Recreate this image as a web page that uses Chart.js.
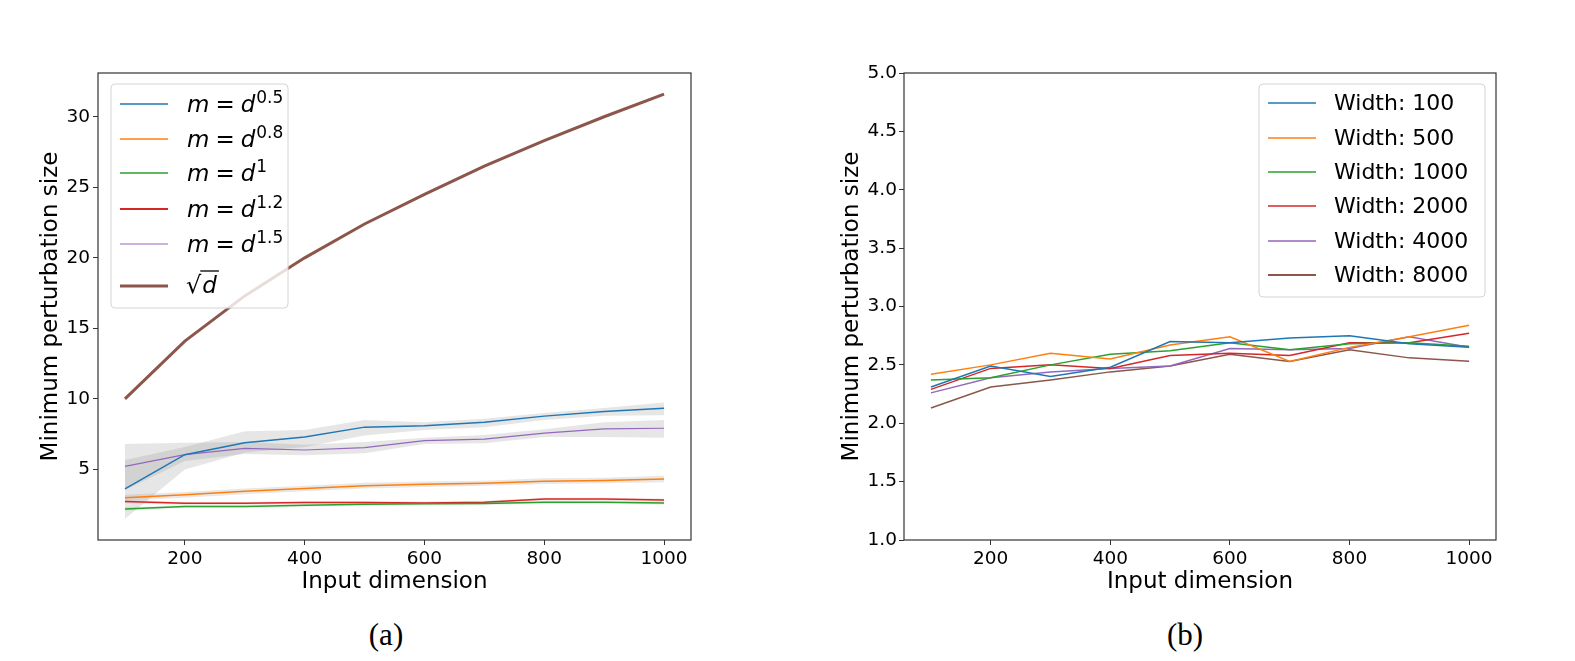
<!DOCTYPE html>
<html>
<head>
<meta charset="utf-8">
<script src="https://cdn.jsdelivr.net/npm/chart.js@4.4.1/dist/chart.umd.min.js"></script>
<style>
  body { margin: 0; background: #fff; width: 1575px; height: 661px; position: relative; overflow: hidden; }
  #wrapA { position: absolute; left: 0; top: 0; width: 780px; height: 600px; }
  #wrapB { position: absolute; left: 806px; top: 0; width: 769px; height: 600px; }
  .cap { position: absolute; top: 617px; font-family: "Liberation Serif", serif; font-size: 31px; transform: translateX(-50%); }
</style>
</head>
<body>
<div id="wrapA"><canvas id="chartA" width="780" height="600" style="width:780px;height:600px"></canvas></div>
<div id="wrapB"><canvas id="chartB" width="769" height="600" style="width:769px;height:600px"></canvas></div>
<div class="cap" style="left:386px">(a)</div>
<div class="cap" style="left:1185px">(b)</div>
<script>
// input dimensions (x) shared by both panels
const dims = [100, 200, 300, 400, 500, 600, 700, 800, 900, 1000];
const xTicks = [200, 400, 600, 800, 1000];

// panel (a): mean + band per hidden width m = d^p
const exps = ['0.5', '0.8', '1', '1.2', '1.5'];
const mPow05 = [3.62, 6.05, 6.9, 7.3, 8.0, 8.1, 8.35, 8.78, 9.1, 9.33];
const mPow05Lo = [1.5, 5.0, 6.2, 6.6, 7.4, 7.8, 8.0, 8.5, 8.8, 8.85];
const mPow05Hi = [5.67, 6.6, 7.7, 7.8, 8.5, 8.35, 8.6, 9.0, 9.35, 9.75];
const mPow08 = [3.0, 3.2, 3.45, 3.65, 3.85, 3.95, 4.02, 4.17, 4.22, 4.33];
const mPow08Lo = [2.8, 3.0, 3.25, 3.45, 3.65, 3.75, 3.85, 3.97, 4.02, 4.1];
const mPow08Hi = [3.2, 3.4, 3.65, 3.85, 4.05, 4.15, 4.2, 4.37, 4.42, 4.55];
const mPow10 = [2.2, 2.38, 2.38, 2.46, 2.53, 2.57, 2.58, 2.67, 2.68, 2.63];
const mPow10Lo = [2.08, 2.28, 2.28, 2.36, 2.43, 2.47, 2.48, 2.57, 2.58, 2.5];
const mPow10Hi = [2.32, 2.48, 2.48, 2.56, 2.63, 2.67, 2.68, 2.77, 2.78, 2.75];
const mPow12 = [2.73, 2.6, 2.6, 2.66, 2.66, 2.62, 2.68, 2.9, 2.9, 2.83];
const mPow12Lo = [2.6, 2.5, 2.5, 2.56, 2.56, 2.52, 2.58, 2.8, 2.8, 2.72];
const mPow12Hi = [2.86, 2.7, 2.7, 2.76, 2.76, 2.72, 2.78, 3.0, 3.0, 2.94];
const mPow15 = [5.22, 6.05, 6.5, 6.38, 6.55, 7.05, 7.15, 7.58, 7.88, 7.92];
const mPow15Lo = [3.55, 5.6, 6.1, 6.0, 6.15, 6.8, 6.85, 7.3, 7.3, 7.25];
const mPow15Hi = [6.8, 6.9, 6.95, 6.75, 6.95, 7.25, 7.45, 7.85, 8.35, 8.5];
const sqrtD = [10.0, 14.1, 17.3, 20.0, 22.4, 24.5, 26.5, 28.3, 30.0, 31.6];
const yTicksA = [5, 10, 15, 20, 25, 30];

// panel (b): one line per network width
const widths = [100, 500, 1000, 2000, 4000, 8000];
const w100 = [2.31, 2.49, 2.40, 2.48, 2.70, 2.69, 2.73, 2.75, 2.68, 2.65];
const w500 = [2.42, 2.50, 2.60, 2.55, 2.67, 2.74, 2.53, 2.65, 2.74, 2.84];
const w1000 = [2.37, 2.39, 2.50, 2.59, 2.62, 2.69, 2.63, 2.68, 2.69, 2.66];
const w2000 = [2.29, 2.47, 2.50, 2.47, 2.58, 2.60, 2.58, 2.69, 2.69, 2.77];
const w4000 = [2.26, 2.39, 2.44, 2.47, 2.49, 2.64, 2.63, 2.64, 2.74, 2.65];
const w8000 = [2.13, 2.31, 2.37, 2.44, 2.49, 2.59, 2.53, 2.63, 2.56, 2.53];
const yTicksB = [1.0, 1.5, 2.0, 2.5, 3.0, 3.5, 4.0, 4.5, 5.0];

const tab = ['#1f77b4', '#ff7f0e', '#2ca02c', '#d62728', '#9467bd', '#8c564b'];
const FONT = '"DejaVu Sans", sans-serif';
Chart.defaults.font.family = FONT;
Chart.defaults.color = '#000';

function pts(arr) {
    return dims.map((d, i) => ({ x: d, y: arr[i] }));
}
function line(arr, color, w) {
    return { data: pts(arr), borderColor: color, borderWidth: w, pointRadius: 0, tension: 0, fill: false, order: 0 };
}
function band(lo, hi, color) {
    return [
        { data: pts(lo), borderWidth: 0, pointRadius: 0, fill: false, order: 1 },
        { data: pts(hi), borderWidth: 0, pointRadius: 0, fill: '-1', backgroundColor: color, order: 1 }
    ];
}

// matplotlib-like box around the axes
const frame = {
    id: 'frame',
    afterDatasetsDraw(chart) {
        const a = chart.chartArea, ctx = chart.ctx;
        ctx.save();
        ctx.strokeStyle = '#333';
        ctx.lineWidth = 1.2;
        ctx.strokeRect(a.left, a.top, a.right - a.left, a.bottom - a.top);
        ctx.restore();
    }
};

function legendBox(ctx, x, y, w, h) {
    ctx.beginPath();
    ctx.roundRect(x, y, w, h, 4);
    ctx.fillStyle = 'rgba(255,255,255,0.8)';
    ctx.fill();
    ctx.strokeStyle = '#d4d4d4';
    ctx.lineWidth = 1;
    ctx.stroke();
}
function sample(ctx, x0, x1, y, color, w) {
    ctx.beginPath();
    ctx.moveTo(x0, y);
    ctx.lineTo(x1, y);
    ctx.strokeStyle = color;
    ctx.lineWidth = w;
    ctx.stroke();
}

// legend with math labels for panel (a)
const legendA = {
    id: 'legendA',
    afterDatasetsDraw(chart) {
        const ctx = chart.ctx;
        ctx.save();
        legendBox(ctx, 111, 84, 177, 224);
        const rows = [104, 139, 173, 209, 244, 286];
        const lw = [1.5, 1.5, 1.5, 2.2, 1.2, 3];
        ctx.textBaseline = 'alphabetic';
        exps.forEach((e, i) => {
            const y = rows[i];
            sample(ctx, 120, 168, y, tab[i], lw[i]);
            let x = 187;
            const base = y + 8;
            ctx.fillStyle = '#000';
            ctx.font = 'italic 23px ' + FONT;
            ctx.fillText('m', x, base);
            x += ctx.measureText('m').width + 6;
            ctx.font = '23px ' + FONT;
            ctx.fillText('=', x, base);
            x += ctx.measureText('=').width + 6;
            ctx.font = 'italic 23px ' + FONT;
            ctx.fillText('d', x, base);
            x += ctx.measureText('d').width + 1;
            ctx.font = '17px ' + FONT;
            ctx.fillText(e, x, base - 9);
        });
        const y = rows[5];
        sample(ctx, 120, 168, y, tab[5], lw[5]);
        const base = y + 7;
        ctx.fillStyle = '#000';
        ctx.font = '24px ' + FONT;
        ctx.fillText('\u221A', 186, base);
        const rx = 186 + ctx.measureText('\u221A').width;
        ctx.font = 'italic 23px ' + FONT;
        ctx.fillText('d', rx + 1, base);
        const dx = rx + 2 + ctx.measureText('d').width;
        ctx.beginPath();
        ctx.moveTo(rx - 1, base - 22);
        ctx.lineTo(dx + 1, base - 22);
        ctx.strokeStyle = '#000';
        ctx.lineWidth = 1.3;
        ctx.stroke();
        ctx.restore();
    }
};

// plain legend for panel (b), coordinates inside canvas B
const legendB = {
    id: 'legendB',
    afterDatasetsDraw(chart) {
        const ctx = chart.ctx;
        ctx.save();
        legendBox(ctx, 453, 84, 226, 213);
        const rows = [103, 138, 172, 206, 241, 275];
        ctx.font = '22px ' + FONT;
        ctx.textBaseline = 'middle';
        widths.forEach((w, i) => {
            sample(ctx, 462, 510, rows[i], tab[i], i === 5 ? 2.2 : 1.5);
            ctx.fillStyle = '#000';
            ctx.fillText('Width: ' + w, 528, rows[i] + 1);
        });
        ctx.restore();
    }
};

function axes(yMin, yMax, yTicks, yFmt, yTitlePad, yTickPad) {
    const tickGrid = { display: true, drawOnChartArea: false, drawTicks: true, tickLength: 5, color: '#333', lineWidth: 1 };
    return {
        x: {
            type: 'linear', min: 55, max: 1045,
            grid: tickGrid,
            border: { display: false },
            afterBuildTicks: s => { s.ticks = xTicks.map(v => ({ value: v })); },
            afterFit: s => { s.height = 60; },
            ticks: { font: { size: 18.5 }, padding: 3, maxRotation: 0, color: '#000', callback: v => String(v) },
            title: { display: true, text: 'Input dimension', font: { size: 23 }, padding: { top: 0, bottom: 4 }, color: '#000' }
        },
        y: {
            type: 'linear', min: yMin, max: yMax,
            grid: tickGrid,
            border: { display: false },
            afterBuildTicks: s => { s.ticks = yTicks.map(v => ({ value: v })); },
            afterFit: s => { s.width = 98; },
            ticks: { font: { size: 18.5 }, padding: yTickPad, color: '#000', callback: yFmt },
            title: { display: true, text: 'Minimum perturbation size', font: { size: 23 }, padding: { top: yTitlePad, bottom: 0 }, color: '#000' }
        }
    };
}

const common = {
    responsive: false,
    animation: false,
    plugins: { legend: { display: false }, tooltip: { enabled: false } },
    elements: { line: { tension: 0 } }
};

new Chart(document.getElementById('chartA'), {
    type: 'line',
    data: {
        datasets: [
            ...band(mPow05Lo, mPow05Hi, 'rgba(128,128,128,0.2)'),
            ...band(mPow08Lo, mPow08Hi, 'rgba(150,140,130,0.2)'),
            ...band(mPow10Lo, mPow10Hi, 'rgba(44,160,44,0.12)'),
            ...band(mPow12Lo, mPow12Hi, 'rgba(214,39,40,0.12)'),
            ...band(mPow15Lo, mPow15Hi, 'rgba(128,128,128,0.2)'),
            line(mPow05, tab[0], 1.5),
            line(mPow08, tab[1], 1.5),
            line(mPow10, tab[2], 1.5),
            line(mPow12, tab[3], 1.5),
            line(mPow15, tab[4], 1.2),
            line(sqrtD, tab[5], 3)
        ]
    },
    options: {
        ...common,
        layout: { padding: { left: 0, right: 89, top: 73, bottom: 0 } },
        scales: axes(0, 33.1, yTicksA, v => String(v), 37, 3)
    },
    plugins: [frame, legendA]
});

new Chart(document.getElementById('chartB'), {
    type: 'line',
    data: {
        datasets: [w100, w500, w1000, w2000, w4000, w8000].map((arr, i) => line(arr, tab[i], 1.5))
    },
    options: {
        ...common,
        layout: { padding: { left: 0, right: 79, top: 73, bottom: 0 } },
        scales: axes(1, 5, yTicksB, v => v.toFixed(1), 32, 2)
    },
    plugins: [frame, legendB]
});
</script>
</body>
</html>
